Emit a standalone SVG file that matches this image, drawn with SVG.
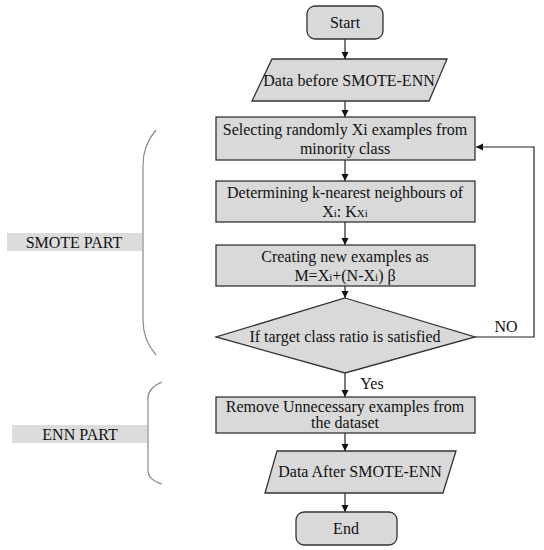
<svg xmlns="http://www.w3.org/2000/svg" width="544" height="550" viewBox="0 0 544 550">
<style>
.n{fill:#d9d9d9;stroke:#333;stroke-width:1.3}
.t{font-family:"Liberation Serif","Times New Roman",serif;font-size:16px;fill:#111;text-anchor:middle}
.c{fill:none;stroke:#222;stroke-width:1.2}
.b{fill:none;stroke:#888;stroke-width:1.2}
.lab{fill:#dcdcdc}
.s{font-size:11px}
</style>
<defs>
<marker id="a" markerWidth="8" markerHeight="8" refX="7" refY="4" orient="auto" markerUnits="userSpaceOnUse">
<path d="M0,0.5 L7,4 L0,7.5 Z" fill="#111"/>
</marker>
</defs>
<rect width="544" height="550" fill="#fff"/>
<g id="connectors">
<line class="c" x1="345" y1="39" x2="345" y2="59" marker-end="url(#a)"/>
<line class="c" x1="345" y1="101" x2="345" y2="117" marker-end="url(#a)"/>
<line class="c" x1="345" y1="160" x2="345" y2="181" marker-end="url(#a)"/>
<line class="c" x1="345" y1="222" x2="345" y2="245" marker-end="url(#a)"/>
<line class="c" x1="345" y1="286" x2="345" y2="298" marker-end="url(#a)"/>
<line class="c" x1="345" y1="373" x2="345" y2="397" marker-end="url(#a)"/>
<line class="c" x1="345" y1="433" x2="345" y2="451" marker-end="url(#a)"/>
<line class="c" x1="345" y1="493" x2="345" y2="512" marker-end="url(#a)"/>
<polyline class="c" points="475,337 534,337 534,147 476,147" marker-end="url(#a)"/>
<text class="t" x="506" y="332">NO</text>
<text class="t" x="372" y="389">Yes</text>
</g>
<g id="start">
<rect class="n" x="307" y="6" width="76" height="33" rx="8"/>
<text class="t" x="345" y="28">Start</text>
</g>
<g id="data-before">
<polygon class="n" points="272,59 447,59 429,101 252,101"/>
<text class="t" x="349" y="86">Data before SMOTE-ENN</text>
</g>
<g id="select">
<rect class="n" x="216" y="117" width="259" height="43"/>
<text class="t" x="345" y="135">Selecting randomly Xi examples from</text>
<text class="t" x="345" y="154">minority class</text>
</g>
<g id="knn">
<rect class="n" x="216" y="181" width="259" height="41"/>
<text class="t" x="345" y="198">Determining k-nearest neighbours of</text>
<text class="t" x="345" y="217">X<tspan class="s">i</tspan>: K<tspan class="s">Xi</tspan></text>
</g>
<g id="create">
<rect class="n" x="216" y="245" width="259" height="41"/>
<text class="t" x="345" y="262">Creating new examples as</text>
<text class="t" x="345" y="281">M=X<tspan class="s">i</tspan>+(N-X<tspan class="s">i</tspan>) β</text>
</g>
<g id="decision">
<polygon class="n" points="345,298 475,337 345,373 216,337"/>
<text class="t" x="345" y="342">If target class ratio is satisfied</text>
</g>
<g id="remove">
<rect class="n" x="216" y="397" width="259" height="36"/>
<text class="t" x="345" y="412">Remove Unnecessary examples from</text>
<text class="t" x="345" y="428">the dataset</text>
</g>
<g id="data-after">
<polygon class="n" points="277,451 456,451 443,493 265,493"/>
<text class="t" x="360" y="477">Data After SMOTE-ENN</text>
</g>
<g id="end">
<rect class="n" x="296" y="512" width="101" height="33" rx="8"/>
<text class="t" x="346" y="534">End</text>
</g>
<g id="smote-part">
<path class="b" d="M156,130 Q143,145 143,165 L143,320 Q143,340 156,355"/>
<rect class="lab" x="7" y="233" width="135" height="18"/>
<text class="t" x="74" y="248">SMOTE PART</text>
</g>
<g id="enn-part">
<path class="b" d="M162,382 Q148,388 148,398 L148,470 Q148,480 162,484"/>
<rect class="lab" x="12" y="425" width="135" height="18"/>
<text class="t" x="80" y="440">ENN PART</text>
</g>
</svg>
